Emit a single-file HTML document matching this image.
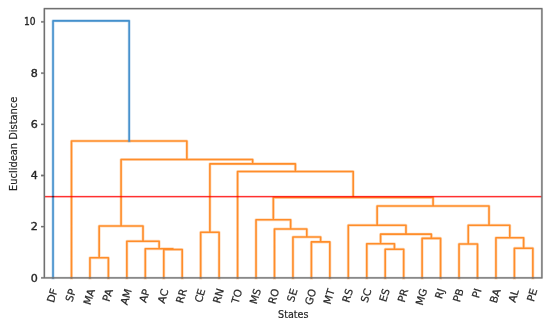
<!DOCTYPE html><html><head><meta charset="utf-8"><title>Dendrogram</title><style>html,body{margin:0;padding:0;background:#fff;width:550px;height:326px;overflow:hidden}svg{display:block}text{font-family:"DejaVu Sans","Liberation Sans",sans-serif;fill:#262626;stroke:#262626;stroke-width:0.2px}.o,.b,.s{fill:none;stroke-linejoin:miter}</style></head><body>
<svg width="550" height="326" viewBox="0 0 550 326">
<rect width="550" height="326" fill="#fff"/>
<path d="M89.94 277.90V257.81H108.39V277.90 M163.76 277.90V249.51H182.21V277.90 M145.30 277.90V248.82H172.98V249.51 M126.85 277.90V241.22H159.14V248.82 M99.17 257.81V225.94H143.00V241.22 M200.67 277.90V232.21H219.12V277.90 M311.39 277.90V241.91H329.85V277.90 M292.94 277.90V237.02H320.62V241.91 M274.48 277.90V229.04H306.78V237.02 M256.03 277.90V219.82H290.63V229.04 M385.21 277.90V249.21H403.67V277.90 M366.76 277.90V243.73H394.44V249.21 M422.12 277.90V238.33H440.57V277.90 M380.60 243.73V234.13H431.35V238.33 M348.30 277.90V225.22H405.97V234.13 M459.03 277.90V244.01H477.48V277.90 M514.39 277.90V248.21H532.85V277.90 M495.94 277.90V237.82H523.62V248.21 M468.26 244.01V225.22H509.78V237.82 M377.14 225.22V206.05H489.02V225.22 M273.33 219.82V197.48H433.08V206.05 M237.58 277.90V171.55H353.20V197.48 M209.89 232.21V163.87H295.39V171.55 M121.08 225.94V159.57H252.64V163.87 M71.48 277.90V140.96H186.86V159.57" fill="none" stroke="#ff8d2a" stroke-opacity="0.3" stroke-width="3.0" stroke-linecap="square" stroke-linejoin="round"/>
<path d="M89.94 277.90V257.81H108.39V277.90 M163.76 277.90V249.51H182.21V277.90 M145.30 277.90V248.82H172.98V249.51 M126.85 277.90V241.22H159.14V248.82 M99.17 257.81V225.94H143.00V241.22 M200.67 277.90V232.21H219.12V277.90 M311.39 277.90V241.91H329.85V277.90 M292.94 277.90V237.02H320.62V241.91 M274.48 277.90V229.04H306.78V237.02 M256.03 277.90V219.82H290.63V229.04 M385.21 277.90V249.21H403.67V277.90 M366.76 277.90V243.73H394.44V249.21 M422.12 277.90V238.33H440.57V277.90 M380.60 243.73V234.13H431.35V238.33 M348.30 277.90V225.22H405.97V234.13 M459.03 277.90V244.01H477.48V277.90 M514.39 277.90V248.21H532.85V277.90 M495.94 277.90V237.82H523.62V248.21 M468.26 244.01V225.22H509.78V237.82 M377.14 225.22V206.05H489.02V225.22 M273.33 219.82V197.48H433.08V206.05 M237.58 277.90V171.55H353.20V197.48 M209.89 232.21V163.87H295.39V171.55 M121.08 225.94V159.57H252.64V163.87 M71.48 277.90V140.96H186.86V159.57" fill="none" stroke="#ff8d2a" stroke-width="1.6" stroke-linecap="square" stroke-linejoin="round"/>
<path d="M53.03 277.90V20.86H129.17V140.96" fill="none" stroke="#4490cc" stroke-opacity="0.3" stroke-width="3.0" stroke-linecap="square" stroke-linejoin="round"/>
<path d="M53.03 277.90V20.86H129.17V140.96" fill="none" stroke="#4490cc" stroke-width="1.6" stroke-linecap="square" stroke-linejoin="round"/>
<path d="M44.35 196.60H541.90" fill="none" stroke="#ff3c3c" stroke-opacity="0.25" stroke-width="2.1" stroke-linecap="butt" stroke-linejoin="round" style="mix-blend-mode:multiply"/>
<path d="M44.35 196.60H541.90" fill="none" stroke="#ff3c3c" stroke-width="1.1" stroke-linecap="butt" stroke-linejoin="round" style="mix-blend-mode:multiply"/>
<path d="M44.35 8.55H541.90V277.90H44.35Z M41.05 277.90H44.35 M41.05 226.71H44.35 M41.05 175.52H44.35 M41.05 124.32H44.35 M41.05 73.13H44.35 M41.05 21.94H44.35" fill="none" stroke="#707070" stroke-opacity="0.3" stroke-width="2.3" stroke-linecap="butt" stroke-linejoin="round"/>
<path d="M44.35 8.55H541.90V277.90H44.35Z M41.05 277.90H44.35 M41.05 226.71H44.35 M41.05 175.52H44.35 M41.05 124.32H44.35 M41.05 73.13H44.35 M41.05 21.94H44.35" fill="none" stroke="#707070" stroke-width="1.3" stroke-linecap="butt" stroke-linejoin="round"/>
<text transform="translate(37.70 281.51) scale(1.12 1)" font-size="9.9" text-anchor="end" style="stroke-width:0.35px">0</text>
<text transform="translate(37.70 230.32) scale(1.12 1)" font-size="9.9" text-anchor="end" style="stroke-width:0.35px">2</text>
<text transform="translate(37.70 179.13) scale(1.12 1)" font-size="9.9" text-anchor="end" style="stroke-width:0.35px">4</text>
<text transform="translate(37.70 127.94) scale(1.12 1)" font-size="9.9" text-anchor="end" style="stroke-width:0.35px">6</text>
<text transform="translate(37.70 76.75) scale(1.12 1)" font-size="9.9" text-anchor="end" style="stroke-width:0.35px">8</text>
<text transform="translate(35.60 25.05) scale(0.92 1)" font-size="9.9" text-anchor="end" style="stroke-width:0.35px">10</text>
<text transform="translate(53.03 295.79) rotate(-73)" font-size="10.4" text-anchor="middle" dy="0.276em">DF</text>
<text transform="translate(71.48 295.54) rotate(-73)" font-size="10.4" text-anchor="middle" dy="0.276em">SP</text>
<text transform="translate(89.94 297.04) rotate(-73)" font-size="10.4" text-anchor="middle" dy="0.276em">MA</text>
<text transform="translate(108.39 295.43) rotate(-73)" font-size="10.4" text-anchor="middle" dy="0.276em">PA</text>
<text transform="translate(126.85 297.05) rotate(-73)" font-size="10.4" text-anchor="middle" dy="0.276em">AM</text>
<text transform="translate(145.30 296.07) rotate(-73)" font-size="10.4" text-anchor="middle" dy="0.276em">AP</text>
<text transform="translate(163.76 296.36) rotate(-73)" font-size="10.4" text-anchor="middle" dy="0.276em">AC</text>
<text transform="translate(182.21 296.15) rotate(-73)" font-size="10.4" text-anchor="middle" dy="0.276em">RR</text>
<text transform="translate(200.67 295.89) rotate(-73)" font-size="10.4" text-anchor="middle" dy="0.276em">CE</text>
<text transform="translate(219.12 296.07) rotate(-73)" font-size="10.4" text-anchor="middle" dy="0.276em">RN</text>
<text transform="translate(237.58 296.56) rotate(-73)" font-size="10.4" text-anchor="middle" dy="0.276em">TO</text>
<text transform="translate(256.03 296.56) rotate(-73)" font-size="10.4" text-anchor="middle" dy="0.276em">MS</text>
<text transform="translate(274.48 296.48) rotate(-73)" font-size="10.4" text-anchor="middle" dy="0.276em">RO</text>
<text transform="translate(292.94 295.53) rotate(-73)" font-size="10.4" text-anchor="middle" dy="0.276em">SE</text>
<text transform="translate(311.39 297.08) rotate(-73)" font-size="10.4" text-anchor="middle" dy="0.276em">GO</text>
<text transform="translate(329.85 296.73) rotate(-73)" font-size="10.4" text-anchor="middle" dy="0.276em">MT</text>
<text transform="translate(348.30 295.72) rotate(-73)" font-size="10.4" text-anchor="middle" dy="0.276em">RS</text>
<text transform="translate(366.76 295.91) rotate(-73)" font-size="10.4" text-anchor="middle" dy="0.276em">SC</text>
<text transform="translate(385.21 295.41) rotate(-73)" font-size="10.4" text-anchor="middle" dy="0.276em">ES</text>
<text transform="translate(403.67 295.69) rotate(-73)" font-size="10.4" text-anchor="middle" dy="0.276em">PR</text>
<text transform="translate(422.12 297.12) rotate(-73)" font-size="10.4" text-anchor="middle" dy="0.276em">MG</text>
<text transform="translate(440.57 293.82) rotate(-73)" font-size="10.4" text-anchor="middle" dy="0.276em">RJ</text>
<text transform="translate(459.03 295.45) rotate(-73)" font-size="10.4" text-anchor="middle" dy="0.276em">PB</text>
<text transform="translate(477.48 293.36) rotate(-73)" font-size="10.4" text-anchor="middle" dy="0.276em">PI</text>
<text transform="translate(495.94 296.16) rotate(-73)" font-size="10.4" text-anchor="middle" dy="0.276em">BA</text>
<text transform="translate(514.39 295.98) rotate(-73)" font-size="10.4" text-anchor="middle" dy="0.276em">AL</text>
<text transform="translate(532.85 295.21) rotate(-73)" font-size="10.4" text-anchor="middle" dy="0.276em">PE</text>
<text x="293.30" y="317.90" font-size="9.6" text-anchor="middle">States</text>
<text transform="translate(16.60 143.85) rotate(-90)" font-size="9.9" text-anchor="middle">Euclidean Distance</text>
</svg></body></html>
